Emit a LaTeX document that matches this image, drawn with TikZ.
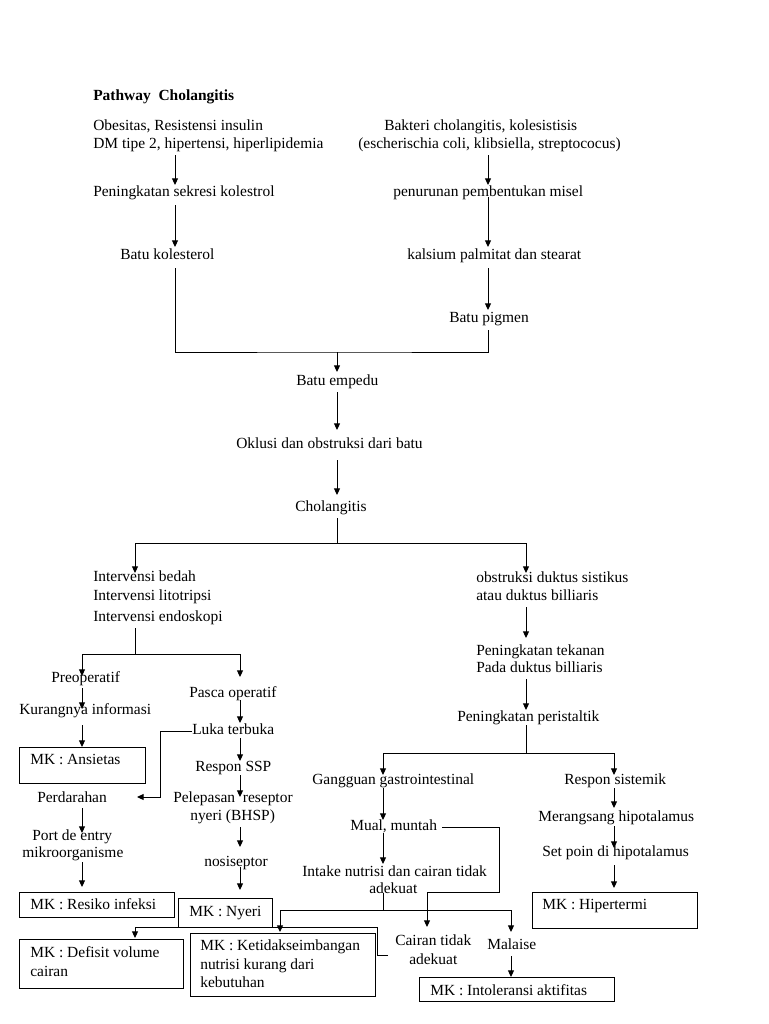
\documentclass[tikz,border=0pt]{standalone}
\usepackage{fontspec}
\setmainfont{Liberation Serif}
\usetikzlibrary{arrows.meta}
\begin{document}
\begin{tikzpicture}[x=0.75pt,y=-0.75pt,
  txt/.style={anchor=base west,inner sep=0pt,font=\fontsize{11.6}{13.5}\selectfont},
  ln/.style={line width=0.75pt},
  arr/.style={line width=0.75pt,-{Triangle[length=5pt,width=4.5pt]}},
  mkbox/.style={draw,line width=0.9pt,fill=white}]
\useasboundingbox[fill=white] (0,0) rectangle (768,1024);

% ---------- top texts ----------
\node[txt,font=\fontsize{11.6}{13.5}\selectfont\bfseries] (title) at (93,100) {Pathway\ \ Cholangitis};
\node[txt] (t1a) at (93,130) {Obesitas, Resistensi insulin};
\node[txt] (t1b) at (93,148) {DM tipe 2, hipertensi, hiperlipidemia};
\node[txt] (r1a) at (384,130) {Bakteri cholangitis, kolesistisis};
\node[txt] (r1b) at (358,148) {(escherischia coli, klibsiella, streptococus)};
\node[txt] (t2) at (93,196) {Peningkatan sekresi kolestrol};
\node[txt] (r2) at (393,196) {penurunan pembentukan misel};
\node[txt] (t3) at (120,259) {Batu kolesterol};
\node[txt] (r3) at (407,259) {kalsium palmitat dan stearat};
\node[txt] (r4) at (449,322) {Batu pigmen};
\node[txt] (c1) at (296,385) {Batu empedu};
\node[txt] (c2) at (236,448) {Oklusi dan obstruksi dari batu};
\node[txt] (c3) at (295,511) {Cholangitis};

% connector points
\coordinate (a1) at (175,155); \coordinate (a1e) at (175,185);
\coordinate (b1) at (488,155); \coordinate (b1e) at (488,185);
\coordinate (a2) at (175,205); \coordinate (a2e) at (175,247);
\coordinate (b2) at (488,197); \coordinate (b2e) at (488,247);
\coordinate (b3) at (488,268); \coordinate (b3e) at (488,310);
\coordinate (a3) at (175,268); \coordinate (b4) at (488,330);
\coordinate (j1) at (337,352); \coordinate (j1e) at (337,372);
\coordinate (c1s) at (337,392); \coordinate (c1e) at (337,430);
\coordinate (c2s) at (337,460); \coordinate (c2e) at (337,495);
\coordinate (c3s) at (337,518); \coordinate (j2) at (337,543);
\coordinate (j2l) at (135,543); \coordinate (j2le) at (135,573);
\coordinate (j2r) at (526,543); \coordinate (j2re) at (526,573);

\draw[arr] (a1) -- (a1e);
\draw[arr] (b1) -- (b1e);
\draw[arr] (a2) -- (a2e);
\draw[arr] (b2) -- (b2e);
\draw[arr] (b3) -- (b3e);
\draw[ln] (a3) |- (j1) -| (b4);
\draw[arr] (j1) -- (j1e);
\draw[arr] (c1s) -- (c1e);
\draw[arr] (c2s) -- (c2e);
\draw[ln] (c3s) -- (j2);
\draw[ln] (j2l) -- (j2r);
\draw[arr] (j2l) -- (j2le);
\draw[arr] (j2r) -- (j2re);

% ---------- left branch ----------
\node[txt] (l1) at (93,581) {Intervensi bedah};
\node[txt] (l2) at (93,600) {Intervensi litotripsi};
\node[txt] (l3) at (93,621) {Intervensi endoskopi};

\coordinate (l3s) at (135,628); \coordinate (j3) at (135,654);
\coordinate (j3l) at (82,654); \coordinate (j3le) at (82,676);
\coordinate (j3r) at (240,654); \coordinate (j3re) at (240,677);
\draw[ln] (l3s) -- (j3);
\draw[ln] (j3l) -- (j3r);
\draw[arr] (j3l) -- (j3le);
\draw[arr] (j3r) -- (j3re);

\node[txt] (p1) at (51,682) {Preoperatif};
\node[txt] (p2) at (19,714) {Kurangnya informasi};
\node[mkbox,minimum width=126*0.75pt,minimum height=36*0.75pt,anchor=north west,inner sep=0pt] (ans) at (19,747) {};
\node[txt] (anst) at (30,764) {MK : Ansietas};
\node[txt] (p3) at (37,802) {Perdarahan};
\node[txt] (p4) at (32,840) {Port de entry};
\node[txt] (p5) at (22,857) {mikroorganisme};
\node[mkbox,minimum width=155*0.75pt,minimum height=25*0.75pt,anchor=north west,inner sep=0pt] (inf) at (19,892) {};
\node[txt] (inft) at (30,909) {MK : Resiko infeksi};

\coordinate (p1s) at (82,688); \coordinate (p1e) at (82,709);
\coordinate (p2s) at (82,725); \coordinate (p2e) at (82,747);
\coordinate (p3s) at (82,808); \coordinate (p3e) at (82,833);
\coordinate (p5s) at (82,862); \coordinate (p5e) at (82,887);
\draw[arr] (p1s) -- (p1e);
\draw[arr] (p2s) -- (p2e);
\draw[arr] (p3s) -- (p3e);
\draw[arr] (p5s) -- (p5e);

\node[txt] (q1) at (189,697) {Pasca operatif};
\node[txt] (q2) at (192,734) {Luka terbuka};
\node[txt] (q3) at (195,771) {Respon SSP};
\node[txt] (q4) at (173,802) {Pelepasan\ \ reseptor};
\node[txt] (q5) at (190,820) {nyeri (BHSP)};
\node[txt] (q6) at (204,866) {nosiseptor};

\coordinate (q1s) at (240,700); \coordinate (q1e) at (240,723);
\coordinate (q2s) at (240,738); \coordinate (q2e) at (240,761);
\coordinate (q3s) at (240,775); \coordinate (q3e) at (240,797);
\coordinate (q5s) at (240,827); \coordinate (q5e) at (240,847);
\coordinate (q6s) at (240,867); \coordinate (q6e) at (240,890);
\coordinate (q2w) at (192,731); \coordinate (q2k) at (160,731);
\coordinate (q2d) at (160,797); \coordinate (q2t) at (137,797);
\draw[arr] (q1s) -- (q1e);
\draw[arr] (q2s) -- (q2e);
\draw[arr] (q3s) -- (q3e);
\draw[arr] (q5s) -- (q5e);
\draw[arr] (q6s) -- (q6e);
\draw[arr] (q2w) -- (q2k) -- (q2d) -- (q2t);

% ---------- right branch ----------
\node[txt] (ro1) at (476,582) {obstruksi duktus sistikus};
\node[txt] (ro2) at (476,600) {atau duktus billiaris};
\node[txt] (ro3) at (476,655) {Peningkatan tekanan};
\node[txt] (ro4) at (476,672) {Pada duktus billiaris};
\node[txt] (ro5) at (457,721) {Peningkatan peristaltik};

\coordinate (ro2s) at (526,607); \coordinate (ro2e) at (526,638);
\coordinate (ro4s) at (526,679); \coordinate (ro4e) at (526,710);
\coordinate (ro5s) at (526,725); \coordinate (j4) at (526,753);
\coordinate (j4l) at (383,753); \coordinate (j4le) at (383,775);
\coordinate (j4r) at (614,753); \coordinate (j4re) at (614,775);
\draw[arr] (ro2s) -- (ro2e);
\draw[arr] (ro4s) -- (ro4e);
\draw[ln] (ro5s) -- (j4);
\draw[ln] (j4l) -- (j4r);
\draw[arr] (j4l) -- (j4le);
\draw[arr] (j4r) -- (j4re);

\node[txt] (g1) at (312,784) {Gangguan gastrointestinal};
\node[txt] (g2) at (350,830) {Mual, muntah};
\node[txt] (g3) at (302,876) {Intake nutrisi dan cairan tidak};
\node[txt] (g4) at (369,893) {adekuat};
\node[txt] (g5) at (395,945) {Cairan tidak};
\node[txt] (g6) at (409,964) {adekuat};
\node[txt] (mal) at (487,949) {Malaise};

\node[txt] (s1) at (564,784) {Respon sistemik};
\node[txt] (s2) at (538,821) {Merangsang hipotalamus};
\node[txt] (s3) at (542,856) {Set poin di hipotalamus};
\node[mkbox,minimum width=165*0.75pt,minimum height=36*0.75pt,anchor=north west,inner sep=0pt] (hip) at (532,892) {};
\node[txt] (hipt) at (542,909) {MK : Hipertermi};

\coordinate (g1s) at (383,788); \coordinate (g1e) at (383,820);
\coordinate (g2s) at (383,833); \coordinate (g2e) at (383,864);
\coordinate (g2r) at (442,827); \coordinate (g2k) at (499,827);
\coordinate (g2d) at (499,892); \coordinate (g2l) at (427,892);
\coordinate (g2t) at (427,927);
\coordinate (g4s) at (383,893); \coordinate (j5) at (383,910);
\coordinate (j5l) at (280,910); \coordinate (j5le) at (280,932);
\coordinate (j5r) at (511,910); \coordinate (j5re) at (511,932);
\coordinate (mals) at (511,956); \coordinate (male) at (511,977);
\coordinate (s1s) at (614,788); \coordinate (s1e) at (614,808);
\coordinate (s2s) at (614,826); \coordinate (s2e) at (614,848);
\coordinate (s3s) at (614,865); \coordinate (s3e) at (614,888);
\draw[arr] (g1s) -- (g1e);
\draw[arr] (g2s) -- (g2e);
\draw[arr] (g2r) -- (g2k) -- (g2d) -- (g2l) -- (g2t);
\draw[ln] (g4s) -- (j5);
\draw[ln] (j5l) -- (j5r);
\draw[arr] (j5r) -- (j5re);
\draw[arr] (mals) -- (male);
\draw[arr] (s1s) -- (s1e);
\draw[arr] (s2s) -- (s2e);
\draw[arr] (s3s) -- (s3e);

% Cairan tidak adekuat -> Defisit volume cairan
\coordinate (g5w) at (388,955); \coordinate (g5k) at (377,955);
\coordinate (g5u) at (377,927); \coordinate (def1) at (135,927);
\coordinate (def1e) at (135,938);
\draw[arr] (g5w) -- (g5k) -- (g5u) -- (def1) -- (def1e);

% ---------- bottom boxes ----------
\node[mkbox,minimum width=94*0.75pt,minimum height=29*0.75pt,anchor=north west,inner sep=0pt] (nye) at (178,898) {};
\node[txt] (nyet) at (189,916) {MK : Nyeri};
\node[mkbox,minimum width=164*0.75pt,minimum height=49*0.75pt,anchor=north west,inner sep=0pt] (def) at (19,939) {};
\node[txt] (deft1) at (30,957) {MK : Defisit volume};
\node[txt] (deft2) at (30,976) {cairan};
\node[mkbox,minimum width=185*0.75pt,minimum height=63*0.75pt,anchor=north west,inner sep=0pt] (ket) at (190,933) {};
\node[txt] (kett1) at (200,950) {MK : Ketidakseimbangan};
\node[txt] (kett2) at (200,969) {nutrisi kurang dari};
\node[txt] (kett3) at (200,987) {kebutuhan};
\draw[arr] (j5l) -- (j5le);
\node[mkbox,minimum width=195*0.75pt,minimum height=24*0.75pt,anchor=north west,inner sep=0pt] (int) at (419,977) {};
\node[txt] (intt) at (430,995) {MK : Intoleransi aktifitas};
\end{tikzpicture}
\end{document}
